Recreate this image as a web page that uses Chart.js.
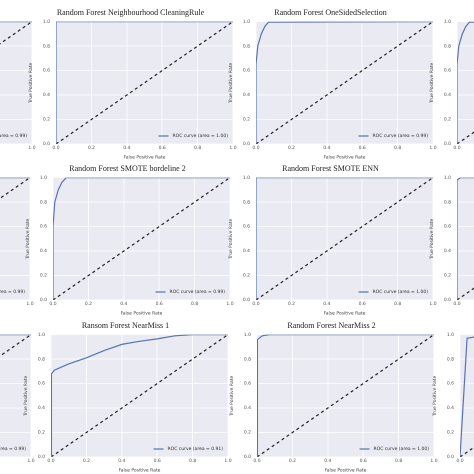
<!DOCTYPE html>
<html><head><meta charset="utf-8">
<script src="https://cdn.jsdelivr.net/npm/chart.js@4"></script>
<style>html,body{margin:0;padding:0;background:#fff;overflow:hidden;width:474px;height:474px;position:relative}
canvas{position:absolute}</style></head><body>
<script>
// Panel titles
const titles = ["", "Random Forest Neighbourhood CleaningRule", "Random Forest OneSidedSelection", "",
  "", "Random Forest SMOTE bordeline 2", "Random Forest SMOTE ENN", "",
  "", "Ransom Forest NearMiss 1", "Random Forest NearMiss 2", ""];
const areas = ["0.99","1.00","0.99","0.99","0.99","0.99","1.00","1.00","0.99","0.91","1.00","0.99"];
// ROC curves: FPR / TPR arrays
const fpr0 = [0,0,0.01,0.03,0.06,0.1,1];            const tpr0 = [0,0.7,0.85,0.95,0.99,1,1];
const fpr1 = [0,0,1];                                const tpr1 = [0,1,1];
const fpr2 = [0,0,0.01,0.03,0.05,0.07,1];           const tpr2 = [0,0.65,0.8,0.9,0.96,0.995,1];
const fpr3 = [0,0,0.01,0.03,0.05,0.07,1];           const tpr3 = [0,0.65,0.8,0.9,0.96,0.995,1];
const fpr4 = [0,0,0.01,0.03,0.06,0.1,1];            const tpr4 = [0,0.7,0.85,0.95,0.99,1,1];
const fpr5 = [0,0,0.01,0.03,0.05,0.075,1];          const tpr5 = [0,0.6,0.8,0.9,0.96,1,1];
const fpr6 = [0,0,1];                                const tpr6 = [0,1,1];
const fpr7 = [0,0,0.02,1];                           const tpr7 = [0,0.98,1,1];
const fpr8 = [0,0,0.01,0.03,0.06,0.1,1];            const tpr8 = [0,0.7,0.85,0.95,0.99,1,1];
const fpr9 = [0,0,0.005,0.02,0.1,0.2,0.3,0.4,0.5,0.6,0.7,0.8,1];
const tpr9 = [0,0.6,0.68,0.71,0.76,0.81,0.87,0.92,0.945,0.965,0.99,1,1];
const fpr10 = [0,0,0.005,0.03,0.07,1];               const tpr10 = [0,0.86,0.96,0.99,1,1];
const fpr11 = [0,0.04,0.08,0.2,1];                   const tpr11 = [0,0.97,0.98,0.99,1];
const fprs=[fpr0,fpr1,fpr2,fpr3,fpr4,fpr5,fpr6,fpr7,fpr8,fpr9,fpr10,fpr11];
const tprs=[tpr0,tpr1,tpr2,tpr3,tpr4,tpr5,tpr6,tpr7,tpr8,tpr9,tpr10,tpr11];
const diagX=[0,1], diagY=[0,1];
const tickVals=[0,0.2,0.4,0.6,0.8,1.0];

const colLeft=[[-173,28,228,429],[-175,25,228,429],[-174,23,229,432]];
const rowTop=[4,160,317];
const W=211,H=156;

const bgPlugin={id:'bg',beforeDraw(c){const a=c.chartArea,x=c.ctx;x.save();x.fillStyle='#eaeaf2';x.fillRect(a.left,a.top,a.right-a.left,a.bottom-a.top);x.restore();}};
const legPlugin={id:'leg',afterDraw(c){const a=c.chartArea,x=c.ctx;const t=c.data.datasets[0].label;x.save();x.font='4.5px "DejaVu Sans"';x.fillStyle='#333';x.textAlign='right';x.textBaseline='middle';const y=a.bottom-8;x.fillText(t,a.right-5,y);const w=x.measureText(t).width;x.strokeStyle='#5874ad';x.lineWidth=1.2;x.beginPath();x.moveTo(a.right-7-w-12,y);x.lineTo(a.right-7-w-2,y);x.stroke();x.restore();}};

for(let r=0;r<3;r++)for(let cI=0;cI<4;cI++){
  const i=r*4+cI;
  const cv=document.createElement('canvas');
  cv.style.left=colLeft[r][cI]+'px';cv.style.top=rowTop[r]+'px';
  cv.style.width=W+'px';cv.style.height=H+'px';
  document.body.appendChild(cv);
  const pts=fprs[i].map((v,k)=>({x:v,y:tprs[i][k]}));
  const dg=diagX.map((v,k)=>({x:v,y:diagY[k]}));
  new Chart(cv,{type:'scatter',
    data:{datasets:[
      {label:'ROC curve (area = '+areas[i]+')',data:pts,showLine:true,borderColor:'#5874ad',borderWidth:1.2,pointRadius:0,tension:0},
      {label:'diag',data:dg,showLine:true,borderColor:'#222',borderWidth:1.2,borderDash:[3,3],pointRadius:0}]},
    options:{responsive:false,animation:false,devicePixelRatio:2,
      layout:{padding:{right:6,left:0,top:0,bottom:0}},
      plugins:{legend:{display:false},tooltip:{enabled:false},
        title:{display:true,text:titles[i]||' ',font:{family:'"Liberation Serif"',size:8,weight:'normal'},color:'#222',padding:{top:4,bottom:4}}},
      scales:{
        x:{type:'linear',min:0,max:1,afterFit(s){s.height=16;},
          afterBuildTicks(s){s.ticks=tickVals.map(v=>({value:v}));},
          ticks:{font:{size:4.5,family:'"DejaVu Sans"'},color:'#555',padding:1,callback:v=>v.toFixed(1),maxRotation:0},
          grid:{color:'#fff',lineWidth:0.8,drawTicks:false},border:{display:false},
          title:{display:true,text:'False Positive Rate',font:{size:4.5,family:'"DejaVu Sans"'},color:'#444',padding:0}},
        y:{type:'linear',min:0,max:1,afterFit(s){s.width=28;},
          afterBuildTicks(s){s.ticks=tickVals.map(v=>({value:v}));},
          ticks:{font:{size:4.5,family:'"DejaVu Sans"'},color:'#555',padding:6,callback:v=>v.toFixed(1)},
          grid:{color:'#fff',lineWidth:0.8,drawTicks:false},border:{display:false},
          title:{display:true,text:'True Positive Rate',font:{size:4.5,family:'"DejaVu Sans"'},color:'#444',padding:0}}}},
    plugins:[bgPlugin,legPlugin]});
}
</script></body></html>
